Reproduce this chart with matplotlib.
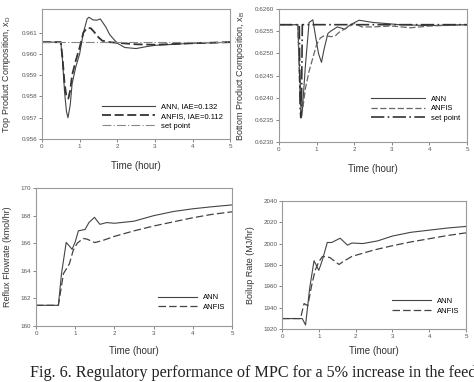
import matplotlib.pyplot as plt

# top product composition
t_tp_ann = [0, 0.5, 0.55, 0.6, 0.65, 0.69, 0.75, 0.8, 0.9, 1.0, 1.1, 1.2, 1.25, 1.35, 1.45, 1.55, 1.7, 1.8, 1.9, 2.0, 2.2, 2.5, 2.8, 3.0, 3.5, 4.0, 4.5, 5.0]
xd_ann = [0.96055, 0.96055, 0.9596, 0.9582, 0.9573, 0.9570, 0.9576, 0.9586, 0.9594, 0.9600, 0.9610, 0.96165, 0.96172, 0.9616, 0.96158, 0.96164, 0.96125, 0.9609, 0.9607, 0.9605, 0.9603, 0.96025, 0.96035, 0.9604, 0.96045, 0.9605, 0.96052, 0.96055]
t_tp_anfis = [0, 0.5, 0.55, 0.6, 0.65, 0.7, 0.75, 0.8, 0.9, 1.0, 1.1, 1.2, 1.3, 1.4, 1.5, 1.6, 1.8, 2.0, 2.5, 3.0, 4.0, 5.0]
xd_anfis = [0.96055, 0.96055, 0.9597, 0.9586, 0.9580, 0.9579, 0.9583, 0.9590, 0.9597, 0.9603, 0.9610, 0.96122, 0.9612, 0.9610, 0.96078, 0.96062, 0.96055, 0.96052, 0.96045, 0.96043, 0.9605, 0.96055]
t_tp_sp = [0, 5]
xd_sp = [0.96055, 0.96055]

# bottom product composition
t_bp_ann = [0, 0.5, 0.55, 0.62, 0.7, 0.8, 0.9, 0.97, 1.05, 1.13, 1.2, 1.3, 1.37, 1.55, 1.75, 1.9, 2.13, 2.5, 2.8, 3.2, 4.0, 5.0]
xb_ann = [0.62565, 0.62565, 0.6245, 0.6237, 0.6247, 0.6257, 0.62576, 0.6254, 0.6250, 0.6248, 0.6251, 0.62545, 0.6255, 0.6256, 0.62555, 0.62565, 0.62575, 0.6257, 0.62568, 0.62565, 0.62563, 0.62565]
t_bp_anfis = [0, 0.5, 0.55, 0.6, 0.7, 0.8, 0.9, 1.0, 1.1, 1.2, 1.4, 1.5, 1.6, 1.8, 2.0, 2.2, 2.5, 3.0, 3.5, 4.0, 5.0]
xb_anfis = [0.62565, 0.62565, 0.6242, 0.62355, 0.6242, 0.6246, 0.6249, 0.6252, 0.62535, 0.6254, 0.62538, 0.6254, 0.62548, 0.62558, 0.62568, 0.6256, 0.6256, 0.62562, 0.62558, 0.62562, 0.62565]
t_bp_sp = [0, 0.54, 0.56, 0.58, 0.6, 0.62, 5]
xb_sp = [0.62565, 0.62565, 0.6238, 0.62355, 0.6240, 0.62565, 0.62565]

# reflux flowrate
t_rf_ann = [0, 0.57, 0.65, 0.77, 0.85, 0.92, 1.0, 1.08, 1.25, 1.35, 1.49, 1.63, 1.8, 2.0, 2.5, 3.0, 3.5, 4.0, 4.5, 5.0]
rf_ann = [161.5, 161.5, 163.8, 166.06, 165.8, 165.56, 166.1, 166.9, 167.0, 167.5, 167.88, 167.37, 167.5, 167.45, 167.6, 168.0, 168.3, 168.5, 168.65, 168.78]
t_rf_anfis = [0, 0.57, 0.7, 0.85, 0.95, 1.05, 1.2, 1.3, 1.5, 1.7, 2.0, 2.5, 3.0, 3.5, 4.0, 4.5, 5.0]
rf_anfis = [161.5, 161.5, 163.8, 164.5, 165.5, 166.0, 166.35, 166.3, 166.05, 166.2, 166.5, 166.9, 167.25, 167.55, 167.85, 168.1, 168.28]

# boilup rate
t_br_ann = [0, 0.55, 0.64, 0.75, 0.87, 1.0, 1.1, 1.23, 1.35, 1.58, 1.78, 1.9, 2.2, 2.6, 3.0, 3.5, 4.0, 4.5, 5.0]
br_ann = [1930, 1930, 1924, 1958, 1984, 1975, 1985, 2001, 2001, 2005, 1998.5, 2000.5, 2000, 2002.5, 2007, 2010.5, 2012.5, 2014.5, 2016]
t_br_anfis = [0, 0.5, 0.6, 0.7, 0.8, 0.9, 1.0, 1.1, 1.3, 1.45, 1.55, 1.7, 1.9, 2.2, 2.5, 3.0, 3.5, 4.0, 4.5, 5.0]
br_anfis = [1930, 1930, 1944, 1942, 1960, 1975, 1983, 1988, 1987, 1983, 1980.5, 1984, 1988, 1991, 1994, 1998, 2001.5, 2004.5, 2007.5, 2010]

plt.rcParams['font.family'] = ['Liberation Sans', 'DejaVu Sans']

fig = plt.figure(figsize=(4.74, 3.82), dpi=100)


def style(ax, xlabel, ylabel, xpad=9):
    for s in ax.spines.values():
        s.set_color('#9a9a9a')
        s.set_linewidth(0.8)
    ax.tick_params(labelsize=4.5, colors='#555555', length=2, width=0.5, pad=1.5)
    ax.set_xlim(0, 5)
    ax.set_xticks([0, 1, 2, 3, 4, 5])
    ax.set_xlabel(xlabel, fontsize=7, color='#333333', labelpad=xpad)
    ax.set_ylabel(ylabel, fontsize=6.5, color='#333333', labelpad=6)


ax1 = fig.add_axes([0.0886, 0.636, 0.397, 0.340])
ax1.plot(t_tp_ann, xd_ann, color='#444444', lw=0.8, label='ANN, IAE=0.132')
ax1.plot(t_tp_anfis, xd_anfis, color='#333333', lw=1.3, ls=(0, (5, 2)), label='ANFIS, IAE=0.112')
ax1.plot(t_tp_sp, xd_sp, color='#888888', lw=0.8, ls=(0, (8, 2, 1, 2)), label='set point')
ax1.set_ylim(0.956, 0.9621)
ax1.set_yticks([0.956, 0.957, 0.958, 0.959, 0.960, 0.961])
ax1.set_yticklabels(['0.956', '0.957', '0.958', '0.959', '0.960', '0.961'])
style(ax1, 'Time (hour)', 'Top Product Composition, $\\mathregular{x_D}$')
ax1.legend(loc='lower right', fontsize=5.5, frameon=False, handlelength=7, bbox_to_anchor=(1.0, 0.02), labelspacing=0.3)

ax2 = fig.add_axes([0.5886, 0.628, 0.3966, 0.348])
ax2.plot(t_bp_ann, xb_ann, color='#444444', lw=0.8, label='ANN')
ax2.plot(t_bp_anfis, xb_anfis, color='#666666', lw=0.9, ls=(0, (5, 2)), label='ANFIS')
ax2.plot(t_bp_sp, xb_sp, color='#333333', lw=1.2, ls=(0, (8, 2, 1, 2)), label='set point')
ax2.set_ylim(0.6230, 0.6260)
ax2.set_yticks([0.6230, 0.6235, 0.6240, 0.6245, 0.6250, 0.6255, 0.6260])
ax2.set_yticklabels(['0.6230', '0.6235', '0.6240', '0.6245', '0.6250', '0.6255', '0.6260'])
style(ax2, 'Time (hour)', 'Bottom Product Composition, $\\mathregular{x_B}$')
ax2.legend(loc='lower right', fontsize=5.5, frameon=False, handlelength=7, bbox_to_anchor=(1.0, 0.1), labelspacing=0.3)

ax3 = fig.add_axes([0.076, 0.1466, 0.4135, 0.361])
ax3.plot(t_rf_ann, rf_ann, color='#444444', lw=0.8, label='ANN')
ax3.plot(t_rf_anfis, rf_anfis, color='#444444', lw=0.9, ls=(0, (6, 2.5)), label='ANFIS')
ax3.set_ylim(160, 170)
ax3.set_yticks([160, 162, 164, 166, 168, 170])
style(ax3, 'Time (hour)', 'Reflux Flowrate (kmol/hr)', xpad=7)
ax3.legend(loc='lower right', fontsize=5.5, frameon=False, handlelength=5, bbox_to_anchor=(1.0, 0.06), labelspacing=0.3)

ax4 = fig.add_axes([0.595, 0.138, 0.388, 0.3366])
ax4.plot(t_br_ann, br_ann, color='#444444', lw=0.8, label='ANN')
ax4.plot(t_br_anfis, br_anfis, color='#444444', lw=0.9, ls=(0, (6, 2.5)), label='ANFIS')
ax4.set_ylim(1920, 2040)
ax4.set_yticks([1920, 1940, 1960, 1980, 2000, 2020, 2040])
style(ax4, 'Time (hour)', 'Boilup Rate (MJ/hr)', xpad=5)
ax4.legend(loc='lower right', fontsize=5.5, frameon=False, handlelength=5, bbox_to_anchor=(1.0, 0.06), labelspacing=0.3)

fig.text(0.063, 0.014, 'Fig. 6. Regulatory performance of MPC for a 5% increase in the feed',
         fontsize=11.6, family='Liberation Serif', color='#222222', ha='left', va='baseline')

fig.savefig('out.png', dpi=100)
